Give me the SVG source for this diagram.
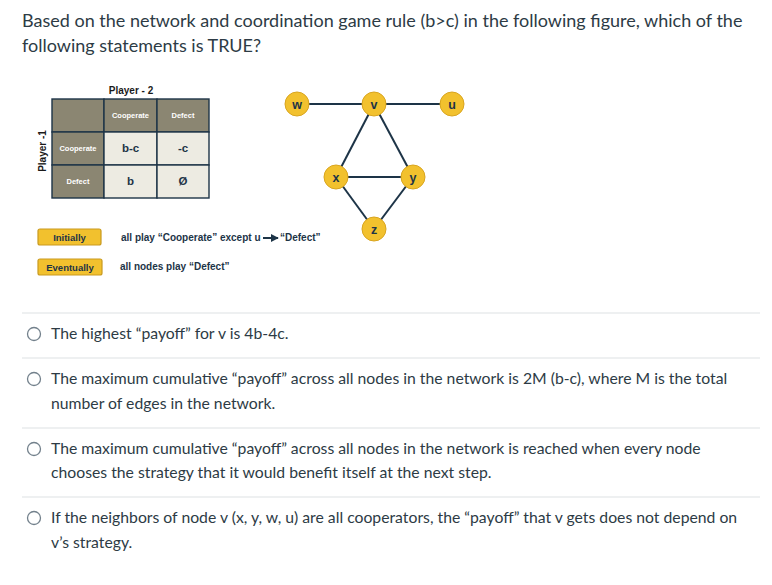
<svg xmlns="http://www.w3.org/2000/svg" width="772" height="585" viewBox="0 0 772 585">
<style>
.q{font-family:Lato,"Open Sans",sans-serif;font-size:18px;fill:#2d3b45}
.o{font-family:Lato,"Open Sans",sans-serif;font-size:15.75px;fill:#2d3b45}
.sep{stroke:#dde1e4;stroke-width:1.2}
.radio{fill:#fff;stroke:#73818c;stroke-width:1.3}
.hd{fill:#8b8672;stroke:#1d3447;stroke-width:1.4}
.bd{fill:#edebe2;stroke:#1d3447;stroke-width:1.4}
.ht{font-family:"Liberation Sans",Arial,sans-serif;font-size:7.5px;font-weight:bold;fill:#fff;text-anchor:middle}
.bt{font-family:"Liberation Sans",Arial,sans-serif;font-size:11.5px;font-weight:bold;fill:#1d3447;text-anchor:middle}
.pl{font-family:"Liberation Sans",Arial,sans-serif;font-size:10px;font-weight:bold;fill:#1a1a1a;text-anchor:middle}
.node{fill:#f2c12e;stroke:#d9a520;stroke-width:1}
.nt{font-family:"Liberation Sans",Arial,sans-serif;font-size:12.5px;font-weight:bold;fill:#1d3447;text-anchor:middle}
.edge{stroke:#1d3447;stroke-width:2;fill:none}
.tag{fill:#f2c12e;stroke:#c99a1e;stroke-width:1.2}
.tt{font-family:"Liberation Sans",Arial,sans-serif;font-size:9.5px;font-weight:bold;fill:#1d3447;text-anchor:middle}
.lt{font-family:"Liberation Sans",Arial,sans-serif;font-size:10px;font-weight:bold;fill:#1d3447}
</style>
<defs>
<marker id="ah" viewBox="0 0 10 10" refX="9" refY="5" markerWidth="4" markerHeight="4" orient="auto">
<path d="M0,0 L10,5 L0,10 z" fill="#1d3447"/>
</marker>
</defs>
<rect width="772" height="585" fill="#fff"/>

<g id="question">
<text class="q" x="22" y="27">Based on the network and coordination game rule (b&gt;c) in the following figure, which of the</text>
<text class="q" x="22" y="52">following statements is TRUE?</text>
</g>

<g id="payoff-table">
<text class="pl" x="131" y="94">Player - 2</text>
<text class="pl" transform="translate(46,151) rotate(-90)">Player -1</text>
<rect class="hd" x="52" y="99" width="52" height="33"/>
<rect class="hd" x="104" y="99" width="53" height="33"/>
<rect class="hd" x="157" y="99" width="52" height="33"/>
<rect class="hd" x="52" y="132" width="52" height="33"/>
<rect class="hd" x="52" y="165" width="52" height="33"/>
<rect class="bd" x="104" y="132" width="53" height="33"/>
<rect class="bd" x="157" y="132" width="52" height="33"/>
<rect class="bd" x="104" y="165" width="53" height="33"/>
<rect class="bd" x="157" y="165" width="52" height="33"/>
<text class="ht" x="130.5" y="118">Cooperate</text>
<text class="ht" x="183" y="118">Defect</text>
<text class="ht" x="78" y="151">Cooperate</text>
<text class="ht" x="78" y="184">Defect</text>
<text class="bt" x="130.5" y="152">b-c</text>
<text class="bt" x="183" y="152">-c</text>
<text class="bt" x="130.5" y="185">b</text>
<text class="bt" x="183" y="185">Ø</text>
</g>

<g id="connectors">
<line class="edge" x1="297" y1="104" x2="374" y2="104"/>
<line class="edge" x1="374" y1="104" x2="452" y2="104"/>
<line class="edge" x1="374" y1="104" x2="336" y2="177"/>
<line class="edge" x1="374" y1="104" x2="413" y2="177"/>
<line class="edge" x1="336" y1="177" x2="413" y2="177"/>
<line class="edge" x1="336" y1="177" x2="374" y2="229"/>
<line class="edge" x1="413" y1="177" x2="374" y2="229"/>
</g>
<g id="node-w"><circle class="node" cx="297" cy="104" r="12"/><text class="nt" x="297" y="108.5">w</text></g>
<g id="node-v"><circle class="node" cx="374" cy="104" r="12"/><text class="nt" x="374" y="108.5">v</text></g>
<g id="node-u"><circle class="node" cx="452" cy="104" r="12"/><text class="nt" x="452" y="108.5">u</text></g>
<g id="node-x"><circle class="node" cx="336" cy="177" r="12"/><text class="nt" x="336" y="181.5">x</text></g>
<g id="node-y"><circle class="node" cx="413" cy="177" r="12"/><text class="nt" x="413" y="181.5">y</text></g>
<g id="node-z"><circle class="node" cx="374" cy="229" r="12"/><text class="nt" x="374" y="233.5">z</text></g>

<g id="legend">
<rect class="tag" x="38" y="229" width="63" height="16" rx="2"/>
<text class="tt" x="69.5" y="240.5">Initially</text>
<text class="lt" x="121" y="241">all play “Cooperate” except u</text>
<line class="edge" x1="263" y1="238" x2="278" y2="238" stroke-width="1.8" marker-end="url(#ah)"/>
<text class="lt" x="280" y="241">“Defect”</text>
<rect class="tag" x="38" y="259" width="64" height="16" rx="2"/>
<text class="tt" x="70" y="270.5">Eventually</text>
<text class="lt" x="120" y="270">all nodes play “Defect”</text>
</g>

<g id="options">
<line class="sep" x1="22" y1="313" x2="760" y2="313"/>
<circle class="radio" cx="34" cy="334" r="6.5"/>
<text class="o" x="51" y="339">The highest “payoff” for v is 4b-4c.</text>
<line class="sep" x1="22" y1="358" x2="760" y2="358"/>
<circle class="radio" cx="34" cy="379" r="6.5"/>
<text class="o" x="51" y="384">The maximum cumulative “payoff” across all nodes in the network is 2M (b-c), where M is the total</text>
<text class="o" x="51" y="409">number of edges in the network.</text>
<line class="sep" x1="22" y1="428" x2="760" y2="428"/>
<circle class="radio" cx="34" cy="449" r="6.5"/>
<text class="o" x="51" y="454">The maximum cumulative “payoff” across all nodes in the network is reached when every node</text>
<text class="o" x="51" y="478">chooses the strategy that it would benefit itself at the next step.</text>
<line class="sep" x1="22" y1="497" x2="760" y2="497"/>
<circle class="radio" cx="34" cy="518" r="6.5"/>
<text class="o" x="51" y="523">If the neighbors of node v (x, y, w, u) are all cooperators, the “payoff” that v gets does not depend on</text>
<text class="o" x="51" y="548">v’s strategy.</text>
</g>
</svg>
